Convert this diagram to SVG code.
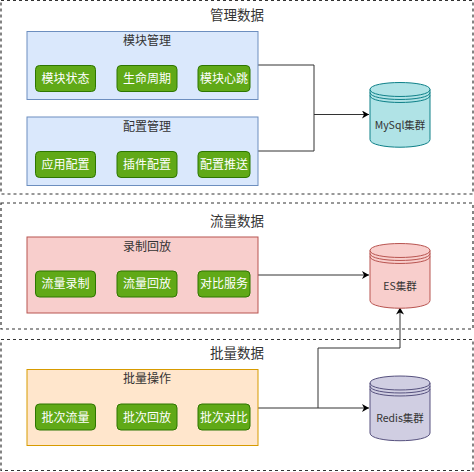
<svg xmlns="http://www.w3.org/2000/svg" width="474" height="472" viewBox="0 0 474 472">
<style>
text{font-family:"Noto Sans CJK SC","Noto Sans",sans-serif;text-anchor:middle;fill:#333}
.zone{fill:#fff;stroke:#333;stroke-width:1.2;stroke-dasharray:3 3}
.zt{font-size:13.5px}
.gt{font-size:12px}
.btn{fill:#60a917;stroke:#2d7600;stroke-width:1}
.bt{font-size:12px;fill:#fff}
.blue{fill:#dae8fc;stroke:#6c8ebf}
.red{fill:#f8cecc;stroke:#b85450}
.orange{fill:#ffe6cc;stroke:#d79b00}
.line{fill:none;stroke:#333;stroke-width:1}
.dbl{fill:none;stroke-width:1}
.dt{font-size:10.500px}
</style>
<defs>
<marker id="arr" markerUnits="userSpaceOnUse" markerWidth="8" markerHeight="8" refX="7" refY="4" orient="auto"><path d="M0 0L7 4L0 8L2 4Z" fill="#000"/></marker>
<g id="cyl">
<path d="M0 7C0-2.300 60-2.300 60 7V57C60 67.300 0 67.300 0 57Z"/>
<path class="dbl" d="M0 7C0 16.300 60 16.300 60 7M0 10C0 19.300 60 19.300 60 10M0 13C0 22.300 60 22.300 60 13"/>
</g>
</defs>
<g id="zone-manage">
<rect class="zone" x="1" y="0.500" width="472" height="193.500"/>
<text class="zt" x="237" y="20">管理数据</text>
</g>
<g id="zone-traffic">
<rect class="zone" x="1" y="203" width="472" height="126"/>
<text class="zt" x="237" y="226">流量数据</text>
</g>
<g id="zone-batch">
<rect class="zone" x="1" y="339.500" width="472" height="131"/>
<text class="zt" x="237" y="358">批量数据</text>
</g>
<g id="connectors">
<path class="line" d="M258 65H314V151H258"/>
<path class="line" d="M314 114.500H369" marker-end="url(#arr)"/>
<path class="line" d="M258 275H369" marker-end="url(#arr)"/>
<path class="line" d="M258 408H369" marker-end="url(#arr)"/>
<path class="line" d="M318 408V348H400V307.500" marker-end="url(#arr)"/>
</g>
<g id="group-module">
<rect class="blue" x="27" y="31.500" width="231" height="68"/>
<text class="gt" x="147" y="45">模块管理</text>
</g>
<g id="n-module-state"><rect class="btn" x="35.500" y="65.500" width="60" height="26" rx="4"/><text class="bt" x="65.500" y="83">模块状态</text></g>
<g id="n-lifecycle"><rect class="btn" x="117" y="65.500" width="60" height="26" rx="4"/><text class="bt" x="147" y="83">生命周期</text></g>
<g id="n-heartbeat"><rect class="btn" x="198" y="65.500" width="52" height="26" rx="4"/><text class="bt" x="224" y="83">模块心跳</text></g>
<g id="group-config">
<rect class="blue" x="27" y="117" width="231" height="68.500"/>
<text class="gt" x="147" y="131">配置管理</text>
</g>
<g id="n-app-config"><rect class="btn" x="35.500" y="151.500" width="60" height="26" rx="4"/><text class="bt" x="65.500" y="169">应用配置</text></g>
<g id="n-plugin-config"><rect class="btn" x="117" y="151.500" width="60" height="26" rx="4"/><text class="bt" x="147" y="169">插件配置</text></g>
<g id="n-config-push"><rect class="btn" x="198" y="151.500" width="52" height="26" rx="4"/><text class="bt" x="224" y="169">配置推送</text></g>
<g id="group-record">
<rect class="red" x="27" y="237" width="231" height="76"/>
<text class="gt" x="147" y="251">录制回放</text>
</g>
<g id="n-record"><rect class="btn" x="35.500" y="271" width="60" height="26" rx="4"/><text class="bt" x="65.500" y="288">流量录制</text></g>
<g id="n-replay"><rect class="btn" x="117" y="271" width="60" height="26" rx="4"/><text class="bt" x="147" y="288">流量回放</text></g>
<g id="n-compare"><rect class="btn" x="198" y="271" width="52" height="26" rx="4"/><text class="bt" x="224" y="288">对比服务</text></g>
<g id="group-batch">
<rect class="orange" x="27" y="369.500" width="231" height="76"/>
<text class="gt" x="147" y="383">批量操作</text>
</g>
<g id="n-batch-traffic"><rect class="btn" x="35.500" y="404" width="60" height="26" rx="4"/><text class="bt" x="65.500" y="422">批次流量</text></g>
<g id="n-batch-replay"><rect class="btn" x="117" y="404" width="60" height="26" rx="4"/><text class="bt" x="147" y="422">批次回放</text></g>
<g id="n-batch-compare"><rect class="btn" x="198" y="404" width="52" height="26" rx="4"/><text class="bt" x="224" y="422">批次对比</text></g>
<g id="db-mysql">
<use href="#cyl" x="370" y="82.500" fill="#b0e3e6" stroke="#0e8088"/>
<text class="dt" x="400" y="129">MySql集群</text>
</g>
<g id="db-es">
<use href="#cyl" x="370" y="243.500" fill="#f8cecc" stroke="#b85450"/>
<text class="dt" x="400" y="290">ES集群</text>
</g>
<g id="db-redis">
<use href="#cyl" x="370" y="376" fill="#d0cee2" stroke="#56517e"/>
<text class="dt" x="400" y="422">Redis集群</text>
</g>
</svg>
